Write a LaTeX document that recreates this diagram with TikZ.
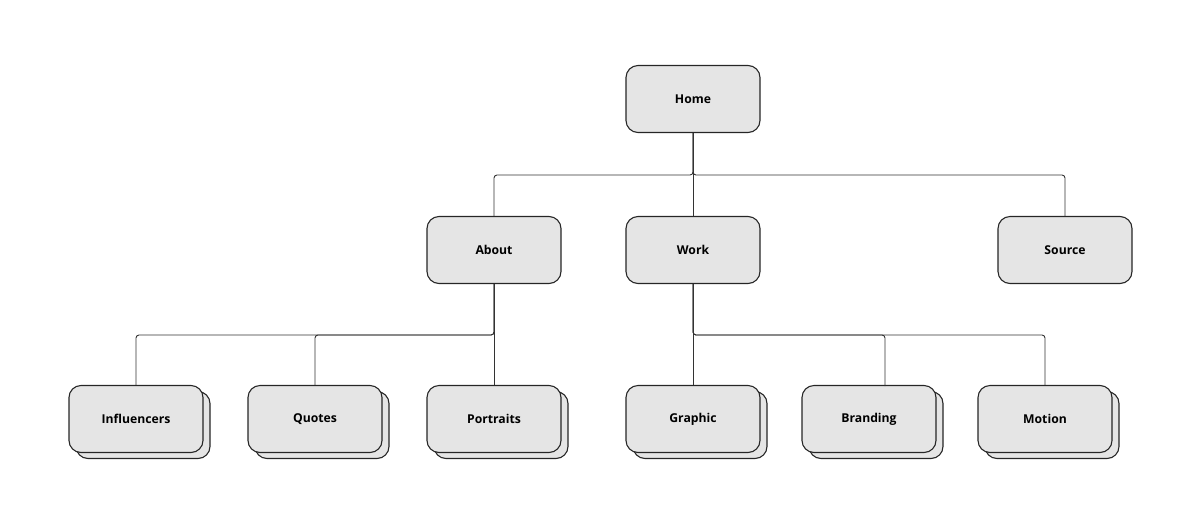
\documentclass[tikz,border=0pt]{standalone}
\usepackage{fontspec}
\setmainfont{Open Sans}
\usetikzlibrary{shadows}

\begin{document}
\begin{tikzpicture}[x=1pt,y=-1pt,
  page/.style={draw=black!85,line width=1.1pt,fill=black!10,rounded corners=12pt,
    minimum width=134pt,minimum height=67pt,inner sep=0pt,
    font=\fontsize{12.2}{14}\selectfont\bfseries},
  pages/.style={page,copy shadow={shadow xshift=7pt,shadow yshift=-6pt}},
  link/.style={draw=black!80,line width=0.9pt,rounded corners=3pt}]
\useasboundingbox (0,0) rectangle (1200,523);
% top level
\node[page] (home) at (693,99) {Home};
% second level
\node[page] (about) at (494,250) {About};
\node[page] (work) at (693,250) {Work};
\node[page] (source) at (1065,250) {Source};
% third level
\node[pages] (influencers) at (136,419) {Influencers};
\node[pages] (quotes) at (315,419) {Quotes};
\node[pages] (portraits) at (494,419) {Portraits};
\node[pages] (graphic) at (693,419) {Graphic};
\node[pages] (branding) at (869,419) {Branding};
\node[pages] (motion) at (1045,419) {Motion};
% joints
\coordinate (homejoint) at (693,175);
\coordinate (aboutjoint) at (494,335);
\coordinate (workjoint) at (693,335);
\coordinate (brandingtop) at (885,386);
% links
\draw[link] (home.south) -- (homejoint) -| (about.north);
\draw[link] (home.south) -- (work.north);
\draw[link] (home.south) -- (homejoint) -| (source.north);
\draw[link] (about.south) -- (aboutjoint) -| (influencers.north);
\draw[link] (about.south) -- (aboutjoint) -| (quotes.north);
\draw[link] (about.south) -- (portraits.north);
\draw[link] (work.south) -- (graphic.north);
\draw[link] (work.south) -- (workjoint) -| (brandingtop);
\draw[link] (work.south) -- (workjoint) -| (motion.north);
\end{tikzpicture}
\end{document}
